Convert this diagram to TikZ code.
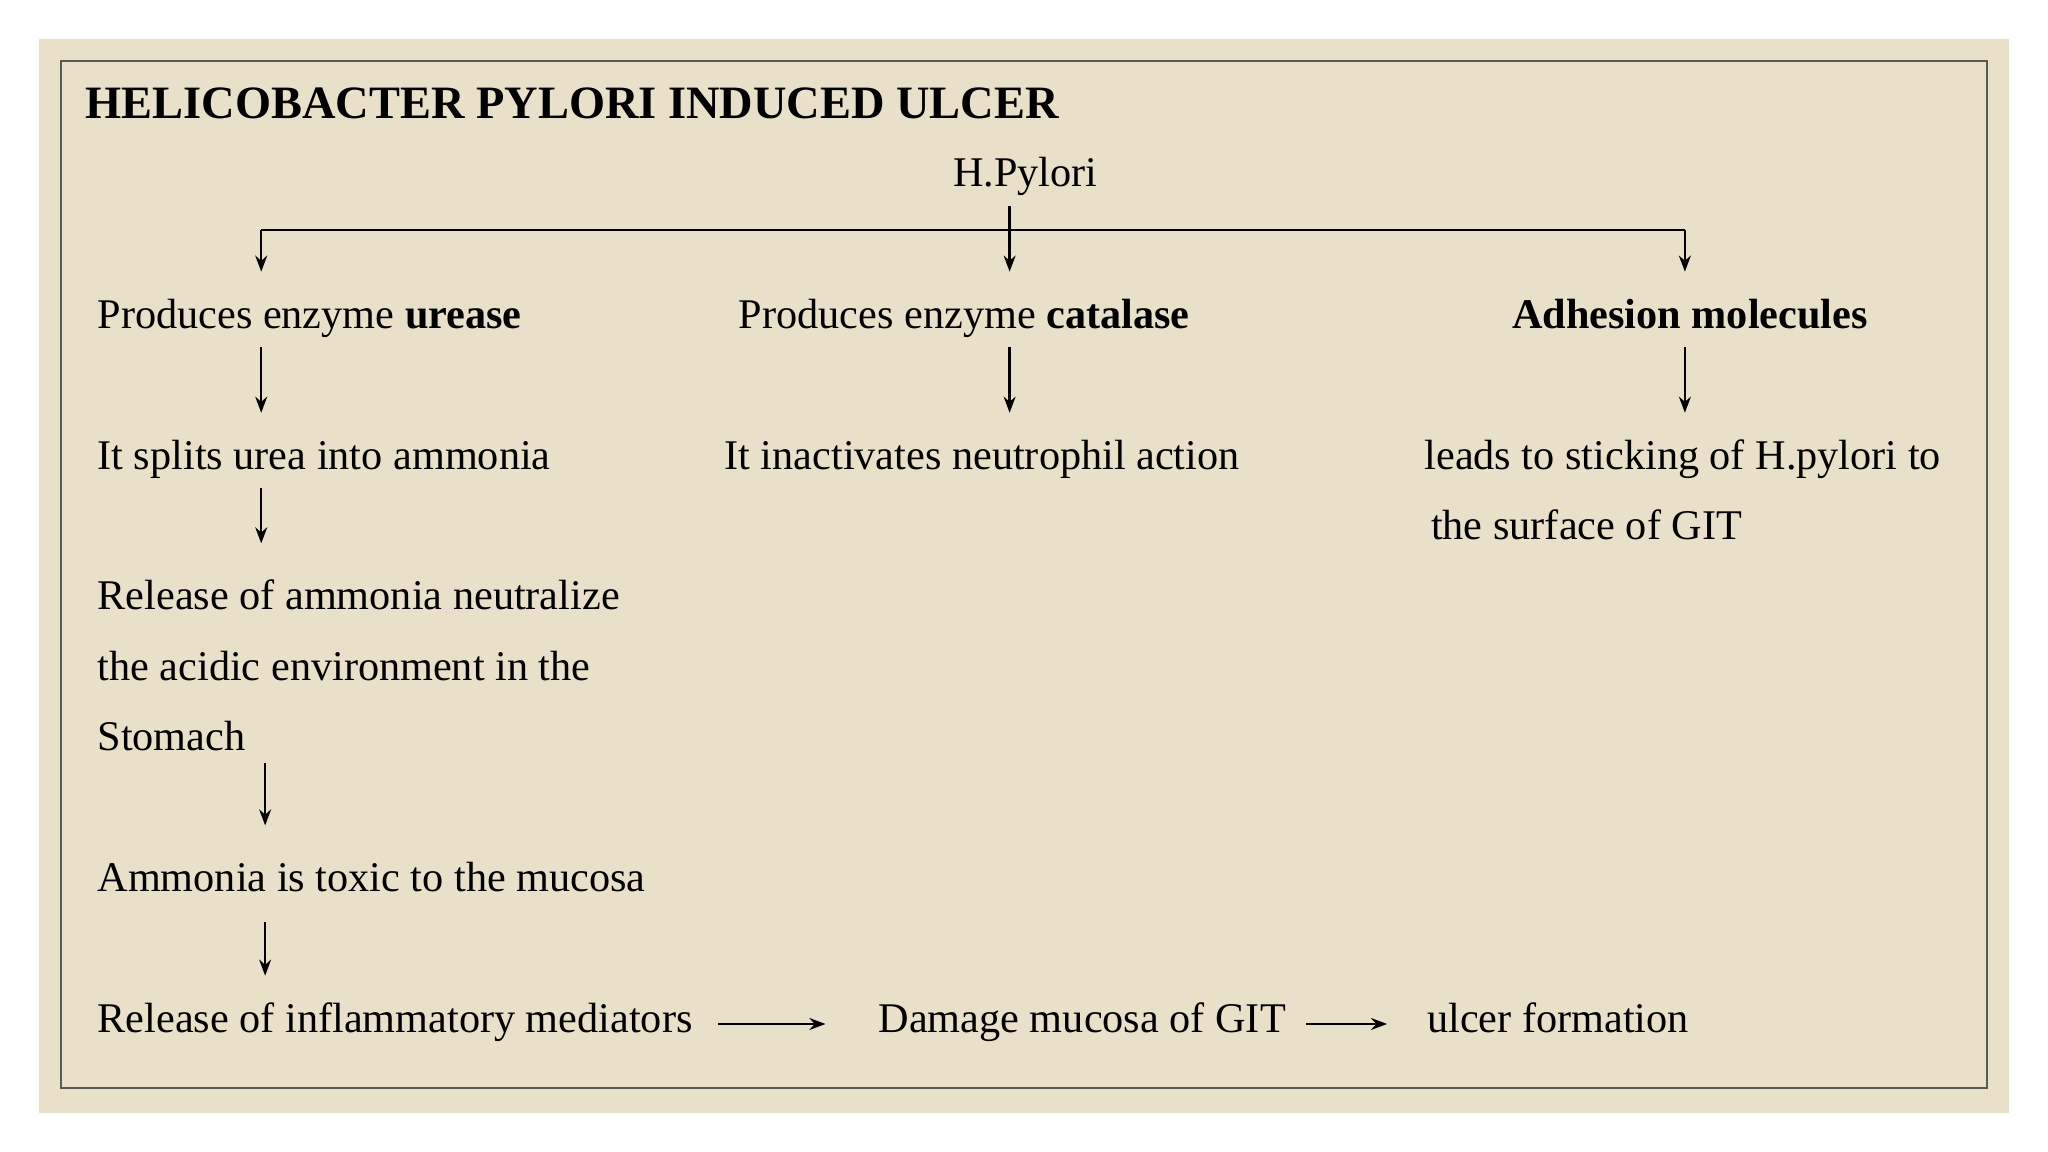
\documentclass[tikz,border=0pt]{standalone}
\usepackage{fontspec}
\setmainfont{Liberation Serif}[BoldFont={Liberation Serif Bold},ItalicFont={Liberation Serif Italic}]
\usetikzlibrary{arrows.meta}
\definecolor{bg}{HTML}{E8E0C8}
\begin{document}
\begin{tikzpicture}[x=0.01cm,y=-0.01cm,
  txt/.style={anchor=west,inner sep=0pt,text height=6.4pt,text depth=2pt,font=\fontsize{9.2}{11}\selectfont},
  arr/.style={-{Stealth[length=3.5pt,width=2.6pt]},line width=0.5pt},
  ln/.style={line width=0.5pt}]
\useasboundingbox (0,0) rectangle (1568,882);
\fill[white] (0,0) rectangle (1568,882);
\fill[bg] (30,30) rectangle (1538,852);
\draw[gray!70!black,line width=0.4pt] (47,47) rectangle (1521,833);
\node[txt,font=\fontsize{10.1}{12}\selectfont\bfseries] (title) at (65,83) {HELICOBACTER PYLORI INDUCED ULCER};
\node[inner sep=0pt,text height=6.4pt,text depth=2pt,font=\fontsize{9.2}{11}\selectfont] (hp) at (785,135) {H.Pylori};
\node[txt] (u1) at (74,244) {Produces enzyme \textbf{urease}};
\node[txt] (c1) at (565,244) {Produces enzyme \textbf{catalase}};
\node[txt] (a1) at (1157,244) {\textbf{Adhesion molecules}};
\node[txt] (u2) at (74,352) {It splits urea into ammonia};
\node[txt] (c2) at (554,352) {It inactivates neutrophil action};
\node[txt] (a2) at (1090,352) {leads to sticking of H.pylori to};
\node[txt] (a3) at (1095,405) {the surface of GIT};
\node[txt] (u3) at (74,459) {Release of ammonia neutralize};
\node[txt] (u4) at (74,513) {the acidic environment in the};
\node[txt] (u5) at (74,567) {Stomach};
\node[txt] (u6) at (74,675) {Ammonia is toxic to the mucosa};
\node[txt] (u7) at (74,783) {Release of inflammatory mediators};
\node[txt] (d1) at (672,783) {Damage mucosa of GIT};
\node[txt] (f1) at (1092,783) {ulcer formation};
% top branch
\coordinate (bl) at (200,176); \coordinate (br) at (1290,176);
\draw[ln] (bl) -- (br);
\draw[arr] (bl) -- (200,208);
\draw[arr] (br) -- (1290,208);
\draw[arr] (773,158) -- (773,208);
% vertical arrows
\foreach \x/\a/\b in {200/266/316, 773/266/316, 1290/266/316, 200/374/416, 203/584/632, 203/706/747}
  \draw[arr] (\x,\a) -- (\x,\b);
\draw[arr] (550,784) -- (632,784);
\draw[arr] (1000,784) -- (1062,784);
\end{tikzpicture}
\end{document}
